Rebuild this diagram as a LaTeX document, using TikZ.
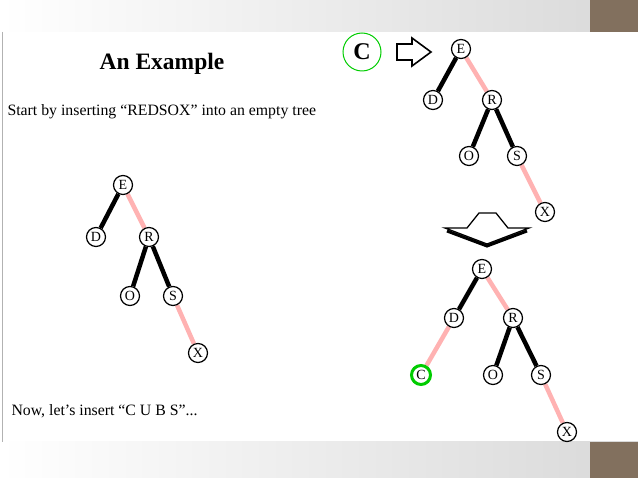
\documentclass[tikz,border=0pt]{standalone}
\usepackage{fontspec}
\setmainfont{Liberation Serif}
\usetikzlibrary{backgrounds}
\begin{document}
\begin{tikzpicture}[x=1pt,y=-1pt,
  nd/.style={circle,draw,fill=white,line width=1.2pt,inner sep=0pt,minimum size=19pt,font=\fontsize{14}{14}\selectfont},
  blk/.style={line width=4.5pt,black},
  pnk/.style={line width=4.5pt,red!30}]
\useasboundingbox (0,0) rectangle (638,478);
\node[font=\bfseries\fontsize{23.5}{24}\selectfont] (title) at (162,64) {An Example};
\node[anchor=west,font=\fontsize{15.8}{16}\selectfont] (t1) at (4,112) {Start by inserting “REDSOX” into an empty tree};
\node[anchor=west,font=\fontsize{15.8}{16}\selectfont] (t2) at (8,411) {Now, let’s insert “C U B S”...};
% left tree
\node[nd] (aE) at (123,185) {E};
\node[nd] (aD) at (96,237) {D};
\node[nd] (aR) at (149,237) {R};
\node[nd] (aO) at (130,296) {O};
\node[nd] (aS) at (173,296) {S};
\node[nd] (aX) at (198,353) {X};
% right top
\node[nd] (bE) at (461,49) {E};
\node[nd] (bD) at (433,100) {D};
\node[nd] (bR) at (492,100) {R};
\node[nd] (bO) at (469,156) {O};
\node[nd] (bS) at (517,156) {S};
\node[nd] (bX) at (545,212) {X};
% bottom
\node[nd] (cE) at (482,269) {E};
\node[nd] (cD) at (454,318) {D};
\node[nd] (cR) at (513,318) {R};
\node[nd] (cO) at (493,375) {O};
\node[nd] (cS) at (541,375) {S};
\node[nd] (cX) at (567,432) {X};
\node[nd,draw=green!80!black,line width=3pt] (cC) at (421,375) {C};
% big C
\node[circle,draw=green!80!black,line width=1pt,minimum size=38pt,inner sep=0pt,font=\bfseries\fontsize{24}{24}\selectfont] (bigC) at (362,52) {C};
% right arrow
\draw[line width=1.6pt,fill=white] (397,44) -- (412,44) -- (412,38) -- (431,52) -- (412,66) -- (412,60) -- (397,60) -- cycle;
% down arrow
\draw[line width=1.3pt,fill=white] (479,213) -- (496,213) -- (508,228) -- (529,228) -- (487,244) -- (445,228) -- (467,228) -- cycle;
\draw[line width=3pt] (447,231) -- (487,246) -- (527,231);
\begin{pgfonlayer}{background}
\shade[left color=white,right color=gray!30] (0,0) rectangle (638,32);
\shade[left color=white,right color=gray!30] (0,442) rectangle (638,478);
\fill[brown!40!black!70] (590,0) rectangle (638,32);
\fill[brown!40!black!70] (590,442) rectangle (638,478);
\draw[gray!60] (2,32) -- (2,442);
\foreach \p in {a,b,c}{
  \draw[blk] (\p E) -- (\p D);
  \draw[pnk] (\p E) -- (\p R);
  \draw[blk] (\p R) -- (\p O);
  \draw[blk] (\p R) -- (\p S);
  \draw[pnk] (\p S) -- (\p X);
}
\draw[pnk] (cD) -- (cC);
\end{pgfonlayer}
\end{tikzpicture}
\end{document}
